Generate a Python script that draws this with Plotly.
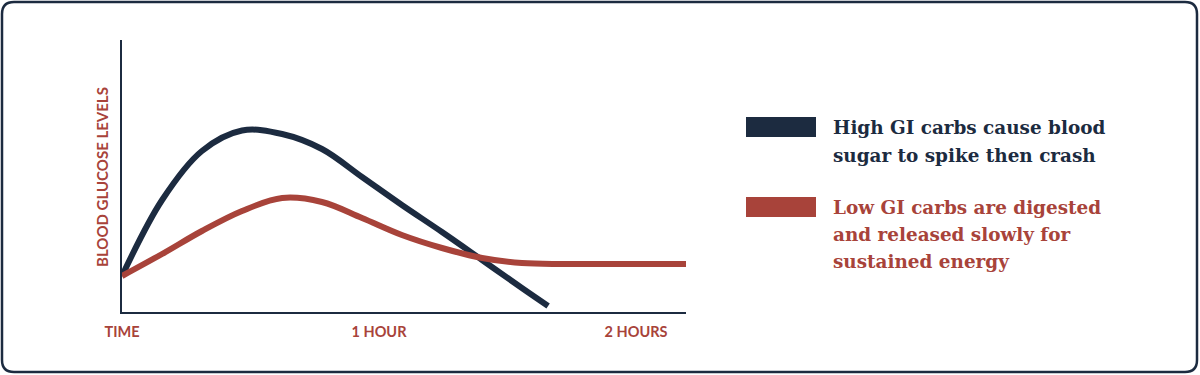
import plotly.graph_objects as go

# ---- data (hours, relative blood glucose level) ----
high_x = [0.0, 0.156, 0.311, 0.467, 0.623, 0.778, 0.934, 1.089, 1.245, 1.401, 1.556, 1.658]
high_y = [36, 112, 161, 181.5, 178, 163, 135, 107, 80, 52, 24, 6]

low_x = [0.0, 0.156, 0.311, 0.467, 0.623, 0.778, 0.934, 1.089, 1.245, 1.401, 1.556,
         1.712, 1.953, 2.195]
low_y = [36, 58, 81, 101, 114, 110, 94, 77, 64, 54, 49, 48, 48, 48]

tick_vals = [0, 1, 2]
tick_text = ["TIME", "1 HOUR", "2 HOURS"]
y_title = "BLOOD GLUCOSE LEVELS"
high_lines = ["High GI carbs cause blood", "sugar to spike then crash"]
low_lines = ["Low GI carbs are digested", "and released slowly for", "sustained energy"]

NAVY = "#1C2B40"
RED = "#A8433A"

W, H = 1200, 375
L, R, T, B = 122, 686, 40, 312  # plot area in pixels


def px(x):
    return (x - L) / (R - L)


def py(y):
    return (B - y) / (B - T)


fig = go.Figure()
fig.add_trace(go.Scatter(x=high_x, y=high_y, mode="lines",
                         line=dict(color=NAVY, width=6, shape="spline", smoothing=1.0),
                         showlegend=False, hoverinfo="skip"))
fig.add_trace(go.Scatter(x=low_x, y=low_y, mode="lines",
                         line=dict(color=RED, width=6, shape="spline", smoothing=1.0),
                         showlegend=False, hoverinfo="skip"))

# rounded border
x0, x1, y0, y1, r = 2, 1197, 2, 372, 12
path = (f"M {px(x0 + r)},{py(y0)} L {px(x1 - r)},{py(y0)} "
        f"Q {px(x1)},{py(y0)} {px(x1)},{py(y0 + r)} L {px(x1)},{py(y1 - r)} "
        f"Q {px(x1)},{py(y1)} {px(x1 - r)},{py(y1)} L {px(x0 + r)},{py(y1)} "
        f"Q {px(x0)},{py(y1)} {px(x0)},{py(y1 - r)} L {px(x0)},{py(y0 + r)} "
        f"Q {px(x0)},{py(y0)} {px(x0 + r)},{py(y0)} Z")
shapes = [
    dict(type="path", xref="paper", yref="paper", path=path,
         line=dict(color=NAVY, width=2.5), layer="below"),
    dict(type="rect", xref="paper", yref="paper",
         x0=px(746), x1=px(816), y0=py(117), y1=py(137),
         fillcolor=NAVY, line=dict(width=0)),
    dict(type="rect", xref="paper", yref="paper",
         x0=px(746), x1=px(816), y0=py(197), y1=py(217),
         fillcolor=RED, line=dict(width=0)),
]

serif = "DejaVu Serif"
annotations = [
    dict(text=y_title, xref="paper", yref="paper", x=px(102), y=py(177),
         textangle=-90, showarrow=False, xanchor="center", yanchor="middle",
         font=dict(family="Lato", size=15, color=RED, weight="bold")),
]
for i, t in enumerate(high_lines):
    annotations.append(dict(text=t, xref="paper", yref="paper", x=px(831), y=py(127 + 28 * i),
                            showarrow=False, xanchor="left", yanchor="middle", align="left",
                            font=dict(family=serif, size=18.4, color=NAVY, weight="bold")))
for i, t in enumerate(low_lines):
    annotations.append(dict(text=t, xref="paper", yref="paper", x=px(831), y=py(207 + 27 * i),
                            showarrow=False, xanchor="left", yanchor="middle", align="left",
                            font=dict(family=serif, size=18.4, color=RED, weight="bold")))

fig.update_layout(
    width=W, height=H,
    margin=dict(l=L, r=W - R, t=T, b=H - B, pad=0),
    paper_bgcolor="white", plot_bgcolor="white",
    shapes=shapes, annotations=annotations,
    xaxis=dict(range=[0, (R - L) / 257], showgrid=False, zeroline=False,
               showline=True, linecolor=NAVY, linewidth=1.5,
               tickvals=tick_vals, ticktext=tick_text, ticks="",
               ticklabelstandoff=6,
               tickfont=dict(family="Lato", size=14.5, color=RED, weight="bold")),
    yaxis=dict(range=[0, B - T], showgrid=False, zeroline=False,
               showline=True, linecolor=NAVY, linewidth=1.5,
               showticklabels=False, ticks=""),
)

fig.write_html("out.html")
